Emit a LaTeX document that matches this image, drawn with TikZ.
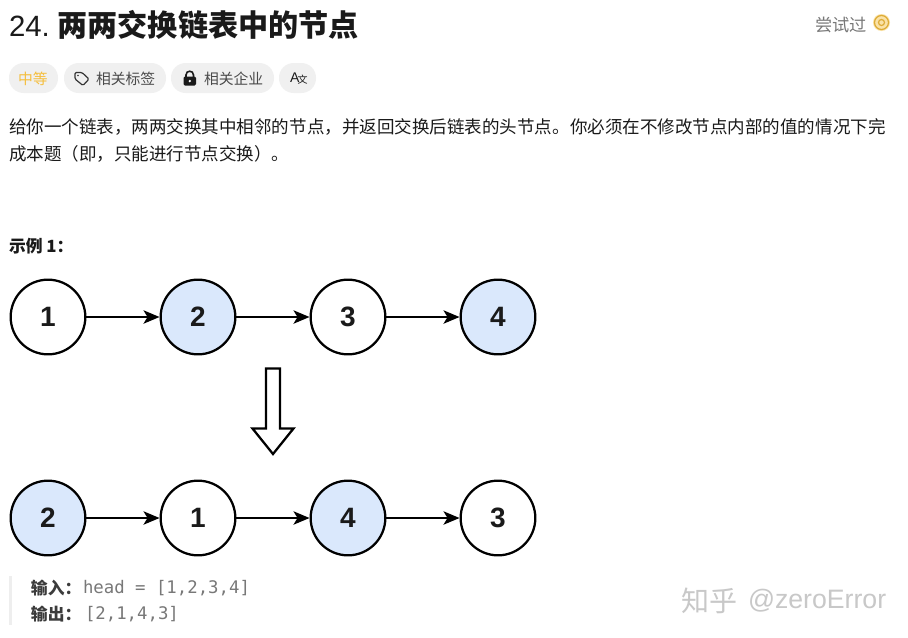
\documentclass[tikz,border=0pt]{standalone}
\usepackage{fontspec}
\setmainfont{Liberation Sans}
\setmonofont{DejaVu Sans Mono}
\newfontfamily\cjk{Noto Sans CJK SC}
\newfontfamily\cjkb[BoldFont={Noto Sans CJK SC Bold}]{Noto Sans CJK SC}
\usetikzlibrary{arrows.meta}
\definecolor{inkdark}{HTML}{1A1A1A}
\definecolor{listnode}{HTML}{DAE8FC}
\definecolor{pill}{HTML}{F0F0F0}
\definecolor{pilltext}{HTML}{4A4A4A}
\definecolor{amber}{HTML}{F5BE3C}
\definecolor{mutedtext}{HTML}{787878}
\definecolor{quotebar}{HTML}{EEEEEE}
\definecolor{mark}{HTML}{C8C8C8}
\tikzset{
  plain/.style={inner sep=0pt,outer sep=0pt,anchor=west},
  listitem/.style={circle,draw=black,line width=1.7pt,minimum size=56pt,inner sep=0pt,font=\fontsize{21}{21}\selectfont\bfseries,text=inkdark,fill=white},
  listitemblue/.style={listitem,fill=listnode},
  link/.style={draw=black,line width=1.6pt,-{Stealth[length=12pt,width=10pt,inset=3pt]}},
  chip/.style={fill=pill,rounded corners=11pt},
  chiptext/.style={plain,font=\cjk\fontsize{11.1}{12}\selectfont,text=pilltext},
  body/.style={plain,font=\cjk\fontsize{13.15}{16}\selectfont,text=inkdark},
  codetext/.style={plain,font=\ttfamily\fontsize{13}{14}\selectfont,text=mutedtext}
}
\begin{document}
\begin{tikzpicture}[x=0.75pt,y=-0.75pt]
\useasboundingbox (0,0) rectangle (908,637);
\fill[white] (0,0) rectangle (908,637);
% title
\node[plain,font=\fontsize{22}{24}\selectfont,text=inkdark] (titlenum) at (9,26) {24.};
\node[plain,font=\cjk\bfseries\fontsize{22.6}{24}\selectfont,text=inkdark] (title) at (57.5,25) {两两交换链表中的节点};
\node[plain,font=\cjk\fontsize{12.9}{14}\selectfont,text=mutedtext] (tried) at (815,24.5) {尝试过};
\fill[amber!45] (881.5,22.5) circle (8.5);
\draw[amber!90!black,line width=0.9pt] (881.5,22.5) circle (7);
\draw[amber!90!black,line width=0.9pt] (881.5,22.5) circle (3);
% chips
\fill[chip] (9,63) rectangle (58,93);
\node[chiptext,text=amber] (hard) at (18,78.5) {中等};
\fill[chip] (64,63) rectangle (166,93);
\draw[pilltext!70!black,line width=0.9pt,line join=round,rounded corners=1pt] (75,72.5) -- (82,72.5) -- (89,79) -- (83,85.5) -- (75,79) -- cycle;
\fill[pilltext!70!black] (78,75.5) circle (0.9);
\node[chiptext] (tags) at (96,78.5) {相关标签};
\fill[chip] (171,63) rectangle (274,93);
\draw[inkdark,line width=1.2pt] (186,77) -- (186,75) .. controls (186,70) and (193.5,70) .. (193.5,75) -- (193.5,77);
\fill[inkdark,rounded corners=1pt] (183.5,76.5) rectangle (196,85.5);
\fill[white] (189.8,81) circle (1.3);
\node[chiptext] (firms) at (204,78.5) {相关企业};
\fill[chip] (279,63) rectangle (316,93);
\node[plain,font=\fontsize{10.5}{12}\selectfont,text=inkdark] (lang) at (290,78) {A};
\node[plain,font=\cjk\fontsize{7.5}{8}\selectfont,text=inkdark] (langb) at (297.5,79.5) {文};
% description
\node[body] (line1) at (9,126.5) {给你一个链表，两两交换其中相邻的节点，并返回交换后链表的头节点。你必须在不修改节点内部的值的情况下完};
\node[body] (line2) at (9,153.5) {成本题（即，只能进行节点交换）。};
\node[plain,font=\cjk\bfseries\fontsize{12.6}{14}\selectfont,text=inkdark] (example) at (9,246) {示例 1：};
% lists
\node[listitem] (a1) at (48,317) {1};
\node[listitemblue] (a2) at (198,317) {2};
\node[listitem] (a3) at (348,317) {3};
\node[listitemblue] (a4) at (498,317) {4};
\draw[link] (a1) -- (a2);
\draw[link] (a2) -- (a3);
\draw[link] (a3) -- (a4);
\node[listitemblue] (b1) at (48,518) {2};
\node[listitem] (b2) at (198,518) {1};
\node[listitemblue] (b3) at (348,518) {4};
\node[listitem] (b4) at (498,518) {3};
\draw[link] (b1) -- (b2);
\draw[link] (b2) -- (b3);
\draw[link] (b3) -- (b4);
% big arrow
\draw[black,line width=1.7pt,fill=white,line join=miter] (266,368.5) -- (280,368.5) -- (280,428.5) -- (293.5,428.5) -- (273,454) -- (252.5,428.5) -- (266,428.5) -- cycle;
% example text
\fill[quotebar] (9,576) rectangle (12,625);
\node[plain,font=\cjk\bfseries\fontsize{12.6}{14}\selectfont,text=inkdark!85] (inlabel) at (31,588) {输入：};
\node[codetext] (invalue) at (83,588) {head = [1,2,3,4]};
\node[plain,font=\cjk\bfseries\fontsize{12.6}{14}\selectfont,text=inkdark!85] (outlabel) at (31,614) {输出：};
\node[codetext] (outvalue) at (85,614) {[2,1,4,3]};
% watermark
\node[plain,font=\cjk\fontsize{21}{22}\selectfont,text=mark] (wm1) at (681,601) {知乎};
\node[plain,font=\fontsize{20}{22}\selectfont,text=mark] (wm2) at (748,601) {@zeroError};
\end{tikzpicture}
\end{document}
